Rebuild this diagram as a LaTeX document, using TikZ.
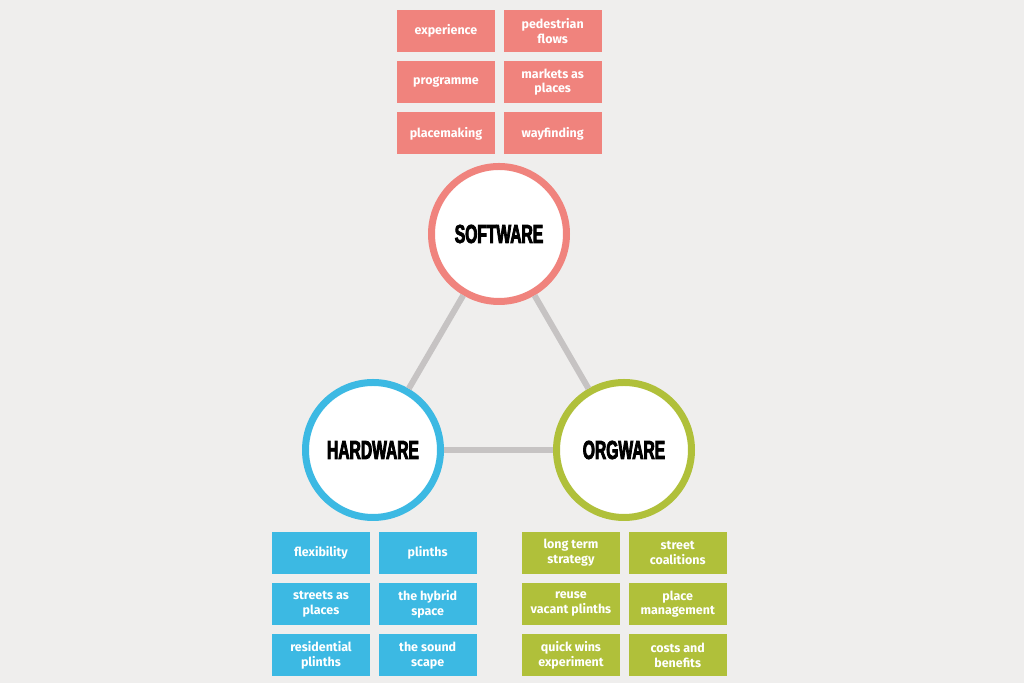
\documentclass[tikz,border=0pt]{standalone}
\usepackage{tikz}
\usetikzlibrary{positioning}
\usepackage{xcolor}
\usepackage{fontspec}
\setmainfont{Fira Sans}
\newfontfamily\wareFont[FakeStretch=0.6,FakeBold=3]{Liberation Sans}
\definecolor{cbg}{HTML}{EFEEED}
\definecolor{csalmon}{HTML}{F0837D}
\definecolor{cblue}{HTML}{3CB9E3}
\definecolor{cgreen}{HTML}{B0C03A}
\definecolor{cgrey}{HTML}{C6C3C3}

\begin{document}
\begin{tikzpicture}[
    ware/.style={circle, draw=#1, fill=white, line width=0.14cm,
                 minimum size=2.7cm, inner sep=0pt,
                 font=\wareFont\bfseries\fontsize{14.8}{15}\selectfont, text=black},
    tag/.style={fill=#1, minimum width=1.96cm, minimum height=0.84cm,
                inner sep=0pt, align=center, text=white,
                font=\bfseries\fontsize{7.1}{8.4}\selectfont},
    link/.style={draw=cgrey, line width=0.12cm},
    node distance=0.17cm and 0.16cm
  ]
    \useasboundingbox[fill=cbg] (0,0) rectangle (20.48,13.66);

    % the three wares
    \node[ware=csalmon] (soft) at (9.98,8.98) {SOFTWARE};
    \node[ware=cblue]   (hard) at (7.46,4.66) {HARDWARE};
    \node[ware=cgreen]  (org)  at (12.48,4.66) {ORGWARE};

    \draw[link] (soft) -- (hard);
    \draw[link] (soft) -- (org);
    \draw[link] (hard) -- (org);

    % software
    \node[tag=csalmon] (experience) at (8.92,13.04) {experience};
    \node[tag=csalmon, right=of experience] (pedestrian) {pedestrian\\flows};
    \node[tag=csalmon, below=of experience] (programme) {programme};
    \node[tag=csalmon, right=of programme] (markets) {markets as\\places};
    \node[tag=csalmon, below=of programme] (placemaking) {placemaking};
    \node[tag=csalmon, right=of placemaking] (wayfinding) {wayfinding};

    % hardware
    \node[tag=cblue] (flexibility) at (6.42,2.6) {flexibility};
    \node[tag=cblue, right=of flexibility] (plinths) {plinths};
    \node[tag=cblue, below=of flexibility] (streets) {streets as\\places};
    \node[tag=cblue, right=of streets] (hybrid) {the hybrid\\space};
    \node[tag=cblue, below=of streets] (residential) {residential\\plinths};
    \node[tag=cblue, right=of residential] (sound) {the sound\\scape};

    % orgware
    \node[tag=cgreen] (longterm) at (11.42,2.6) {long term\\strategy};
    \node[tag=cgreen, right=of longterm] (coalitions) {street\\coalitions};
    \node[tag=cgreen, below=of longterm] (reuse) {reuse\\vacant plinths};
    \node[tag=cgreen, right=of reuse] (management) {place\\management};
    \node[tag=cgreen, below=of reuse] (quickwins) {quick wins\\experiment};
    \node[tag=cgreen, right=of quickwins] (costs) {costs and\\benefits};
\end{tikzpicture}
\end{document}
